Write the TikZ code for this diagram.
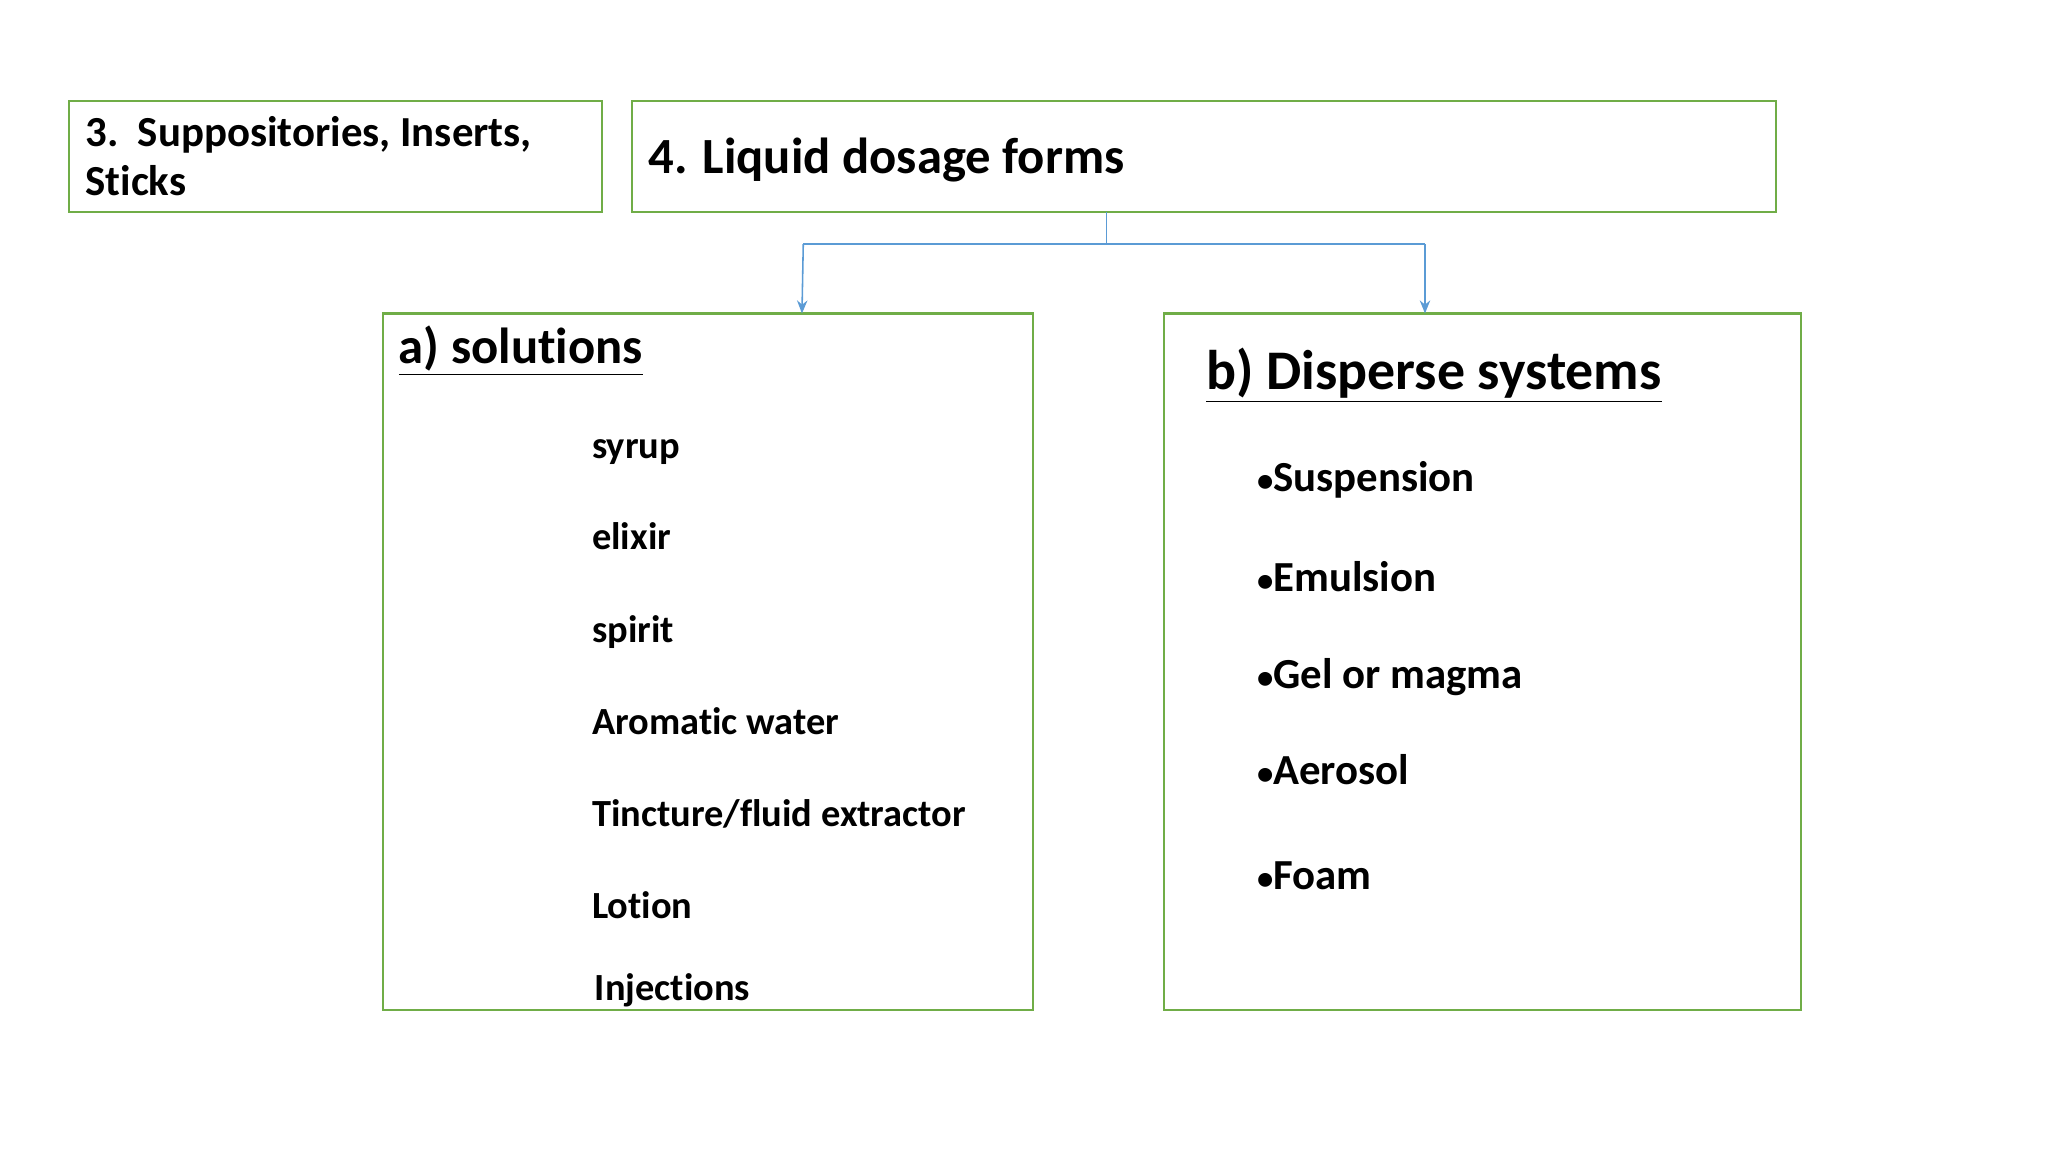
\documentclass[tikz,border=0pt]{standalone}
\usepackage{fontspec}
\setmainfont[Ligatures=NoCommon]{Carlito}
\usetikzlibrary{arrows.meta}
\definecolor{gr}{HTML}{70AD47}
\definecolor{bl}{HTML}{5B9BD5}
\newcommand{\ul}[1]{\underline{#1}}
\begin{document}
\begin{tikzpicture}[x=0.5pt,y=-0.5pt,
  box/.style={draw=gr,line width=0.8pt},
  txt/.style={anchor=base west,inner sep=0,font=\bfseries},
  conn/.style={draw=bl,line width=0.6pt},
  arr/.style={conn,-{Stealth[length=5pt,width=4pt]}}]
\useasboundingbox (0,0) rectangle (1568,882);
\draw[box] (53,77) rectangle (461,162);
\draw[box] (484,77) rectangle (1360,162);
\draw[box] (293,240) rectangle (791,773);
\draw[box] (891,240) rectangle (1379,773);
\node[txt,font=\bfseries\fontsize{16.4}{19}\selectfont] (t3a) at (65,112) {3.\ \ Suppositories, Inserts,};
\node[txt,font=\bfseries\fontsize{16.4}{19}\selectfont] (t3b) at (65,150) {Sticks};
\node[txt,font=\bfseries\fontsize{19.4}{22}\selectfont] (t4) at (496,133) {4. Liquid dosage forms};
\coordinate (c0) at (847,162);
\coordinate (c1) at (847,187);
\coordinate (cl) at (615,187);
\coordinate (cr) at (1091,187);
\coordinate (al) at (614,240);
\coordinate (ar) at (1091,240);
\draw[conn] (c0) -- (c1);
\draw[conn] (cl) -- (cr);
\draw[arr] (cl) -- (al);
\draw[arr] (cr) -- (ar);
\node[txt,font=\bfseries\fontsize{19.4}{22}\selectfont] (ta) at (305,278) {\ul{a) solutions}};
\begin{scope}[every node/.style={txt,font=\bfseries\fontsize{14.7}{17}\selectfont}]
\node (s1) at (453,351) {syrup};
\node (s2) at (453,421) {elixir};
\node (s3) at (453,492) {spirit};
\node (s4) at (453,562) {Aromatic water};
\node (s5) at (453,633) {Tincture/fluid extractor};
\node (s6) at (453,703) {Lotion};
\node (s7) at (455,766) {Injections};
\end{scope}
\node[txt,font=\bfseries\fontsize{21.4}{25}\selectfont] (tb) at (923,298) {\ul{b) Disperse systems}};
\begin{scope}[every node/.style={txt,font=\bfseries\fontsize{16.4}{19}\selectfont}]
\node (b1) at (962,376) {{\fontsize{12.5}{14}\selectfont•}Suspension};
\node (b2) at (962,453) {{\fontsize{12.5}{14}\selectfont•}Emulsion};
\node (b3) at (962,527) {{\fontsize{12.5}{14}\selectfont•}Gel or magma};
\node (b4) at (962,601) {{\fontsize{12.5}{14}\selectfont•}Aerosol};
\node (b5) at (962,681) {{\fontsize{12.5}{14}\selectfont•}Foam};
\end{scope}
\end{tikzpicture}
\end{document}
